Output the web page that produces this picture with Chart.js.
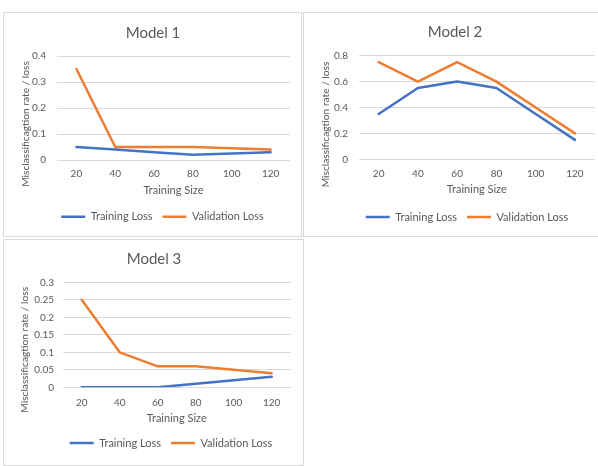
<!DOCTYPE html>
<html>
<head>
<meta charset="utf-8">
<script src="https://cdn.jsdelivr.net/npm/chart.js@4.4.1/dist/chart.umd.min.js"></script>
<style>
  html, body { margin: 0; padding: 0; background: #ffffff; overflow: hidden; }
  body { width: 598px; height: 466px; position: relative; }
  .box { position: absolute; box-sizing: border-box; border: 1px solid #d9d9d9; background: #fff; }
  .box canvas { position: absolute; left: 0; top: 0; }
</style>
</head>
<body>
<div class="box" id="box1" style="left:3px; top:12px; width:299px; height:225px;"><canvas id="c1" width="297" height="223"></canvas></div>
<div class="box" id="box2" style="left:303px; top:12px; width:300px; height:225px;"><canvas id="c2" width="298" height="223"></canvas></div>
<div class="box" id="box3" style="left:3px; top:239px; width:301px; height:227px;"><canvas id="c3" width="299" height="225"></canvas></div>
<script>
// ---- data ----
const categories = ['20', '40', '60', '80', '100', '120'];
const seriesNames = ['Training Loss', 'Validation Loss'];
const chartTitles = ['Model 1', 'Model 2', 'Model 3'];
const xAxisTitle = 'Training Size';
const yAxisTitle = 'Misclassificagtion rate / loss';

const model1Training   = [0.05, 0.04, 0.03, 0.02, 0.025, 0.03];
const model1Validation = [0.35, 0.05, 0.05, 0.05, 0.045, 0.04];
const model2Training   = [0.35, 0.55, 0.6, 0.55, 0.35, 0.15];
const model2Validation = [0.75, 0.6, 0.75, 0.6, 0.4, 0.2];
const model3Training   = [0, 0, 0, 0.01, 0.02, 0.03];
const model3Validation = [0.25, 0.1, 0.06, 0.06, 0.05, 0.04];

const model1YTicks = ['0', '0.1', '0.2', '0.3', '0.4'];
const model2YTicks = ['0', '0.2', '0.4', '0.6', '0.8'];
const model3YTicks = ['0', '0.05', '0.1', '0.15', '0.2', '0.25', '0.3'];

// ---- styling ----
const FONT = 'Lato, "Open Sans", sans-serif';
const TEXT = '#595959';
const GRID = '#d9d9d9';
const BLUE = '#4472C4';
const ORANGE = '#ED7D31';

const excelLayout = {
  id: 'excelLayout',
  afterLayout(chart, args, opts) {
    const lg = chart.legend;
    if (lg && opts.legendCenterX != null) {
      const dx = opts.legendCenterX - (lg.left + lg.right) / 2;
      lg.left += dx;
      lg.right += dx;
    }
    const tb = chart.titleBlock;
    if (tb && opts.titleCenterX != null) {
      const dx = opts.titleCenterX - (tb.left + tb.right) / 2;
      tb.left += dx;
      tb.right += dx;
    }
  },
  afterDraw(chart, args, opts) {
    const ctx = chart.ctx;
    const a = chart.chartArea;
    ctx.save();
    ctx.translate(opts.yTitleX, (a.top + a.bottom) / 2 + opts.yTitleDy);
    ctx.rotate(-Math.PI / 2);
    ctx.font = opts.yTitleSize + 'px ' + FONT;
    ctx.fillStyle = TEXT;
    ctx.textAlign = 'center';
    ctx.textBaseline = 'middle';
    ctx.fillText(opts.yTitleText, 0, 0);
    ctx.restore();
  }
};

function makeChart(id, title, train, valid, yMax, yStep, yTicks, L) {
  const ds = (label, data, color) => ({
    label, data,
    borderColor: color, backgroundColor: color,
    borderWidth: 2.5, pointRadius: 0, pointHoverRadius: 0,
    borderJoinStyle: 'round', borderCapStyle: 'round',
    tension: 0, pointStyle: 'line'
  });
  return new Chart(document.getElementById(id), {
    type: 'line',
    data: {
      labels: categories,
      datasets: [ds(seriesNames[0], train, BLUE), ds(seriesNames[1], valid, ORANGE)]
    },
    plugins: [excelLayout],
    options: {
      responsive: false,
      animation: false,
      events: [],
      layout: { padding: { left: 0, right: L.right, top: 0, bottom: L.bottom } },
      scales: {
        x: {
          type: 'category',
          offset: true,
          grid: { display: false, drawTicks: false },
          border: { display: false },
          ticks: { color: TEXT, font: { family: FONT, size: 10 }, padding: L.xTickPad, maxRotation: 0, autoSkip: false },
          title: { display: true, text: xAxisTitle, color: TEXT, font: { family: FONT, size: 11 }, padding: { top: 0, bottom: L.xTitlePad } },
          afterFit: s => { s.height = L.xHeight; }
        },
        y: {
          min: 0, max: yMax,
          grid: { color: GRID, lineWidth: 1, drawTicks: false },
          border: { display: false },
          ticks: {
            stepSize: yStep, color: TEXT, font: { family: FONT, size: 10 }, padding: L.yTickPad,
            callback: (v, i) => yTicks[i]
          },
          afterFit: s => { s.width = L.yWidth; }
        }
      },
      plugins: {
        title: {
          display: true, text: title, color: TEXT,
          font: { family: FONT, size: 15, weight: 'normal' },
          padding: { top: L.titleTop, bottom: L.titleBottom }
        },
        legend: {
          position: 'bottom',
          labels: {
            color: TEXT, font: { family: FONT, size: 11 },
            usePointStyle: true, pointStyle: 'line', pointStyleWidth: 24,
            boxHeight: 11, padding: 10
          }
        },
        tooltip: { enabled: false },
        excelLayout: {
          legendCenterX: L.legendCX,
          titleCenterX: L.titleCX,
          yTitleText: yAxisTitle, yTitleX: L.yTitleX, yTitleDy: L.yTitleDy, yTitleSize: 10.2
        }
      }
    }
  });
}

makeChart('c1', chartTitles[0], model1Training, model1Validation, 0.4, 0.1, model1YTicks, {
  right: 11, bottom: 3.8, xHeight: 41.2, xTickPad: 8, xTitlePad: 3.9,
  yWidth: 53, yTickPad: 11, titleTop: 11, titleBottom: 14,
  legendCX: 158.5, titleCX: 149, yTitleX: 22, yTitleDy: 16
});
makeChart('c2', chartTitles[1], model2Training, model2Validation, 0.8, 0.2, model2YTicks, {
  right: 7.4, bottom: 3.5, xHeight: 42.2, xTickPad: 8, xTitlePad: 5.9,
  yWidth: 55, yTickPad: 11, titleTop: 10, titleBottom: 14.7,
  legendCX: 163, titleCX: 151, yTitleX: 22, yTitleDy: 17
});
makeChart('c3', chartTitles[2], model3Training, model3Validation, 0.3, 0.05, model3YTicks, {
  right: 12.3, bottom: 6.5, xHeight: 40.2, xTickPad: 9, xTitlePad: 2.6,
  yWidth: 58.7, yTickPad: 8.7, titleTop: 10, titleBottom: 14.3,
  legendCX: 167, titleCX: 150, yTitleX: 21, yTitleDy: 15
});
</script>
</body>
</html>
